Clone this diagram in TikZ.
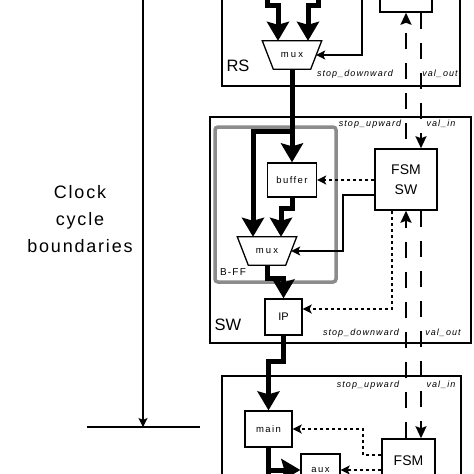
\documentclass[tikz,border=0pt]{standalone}
\usepackage{fontspec}
\setmainfont{Liberation Sans}
\usetikzlibrary{arrows.meta,calc}
\begin{document}
\begin{tikzpicture}[x=1pt,y=-1pt,
  frame/.style={draw,line width=1.3pt,inner sep=0pt},
  blk/.style={draw,line width=1.3pt,inner sep=0pt,font=\fontsize{9.5}{10}\selectfont\addfontfeature{LetterSpace=15}},
  fsm/.style={draw,line width=1.5pt,inner sep=0pt,align=center,font=\fontsize{14}{20}\selectfont},
  muxbox/.style={minimum width=59pt,minimum height=28pt,inner sep=0pt,
     font=\fontsize{9.5}{10}\selectfont\addfontfeature{LetterSpace=22}},
  muxline/.style={line width=1.3pt,line join=miter},
  bus/.style={line width=5pt,line join=miter,-{Stealth[length=19pt,width=22pt,inset=3pt]}},
  busline/.style={line width=5pt,line join=miter},
  ctrl/.style={line width=1.3pt,-{Stealth[length=9pt,width=9pt,inset=2pt]}},
  dot/.style={line width=1.8pt,dash pattern=on 3.5pt off 2.5pt,-{Stealth[length=9pt,width=9pt,inset=2pt]}},
  sig/.style={line width=2pt,dash pattern=on 16pt off 14pt,-{Stealth[length=12pt,width=11pt,inset=2pt]}},
  lbl/.style={inner sep=0pt,font=\fontsize{9}{10}\selectfont\itshape\addfontfeature{LetterSpace=12}},
  big/.style={inner sep=0pt,font=\fontsize{16.5}{18}\selectfont}]
\useasboundingbox (0,0) rectangle (474,474);
\clip (0,0) rectangle (474,474);
\fill[white] (0,0) rectangle (474,474);

% clock cycle boundaries
\coordinate (ctop) at (143,-5);
\coordinate (bl) at (87,427);
\coordinate (br) at (200,427);
\draw[line width=1.3pt] (bl) -- (br);
\draw[ctrl] (ctop) -- (ctop |- bl);
\node[align=center,inner sep=0pt,font=\fontsize{18}{27}\selectfont\addfontfeature{LetterSpace=10}] (clk) at (80,219) {Clock\\cycle\\boundaries};

% frames
\node[frame,minimum width=238pt,minimum height=110pt] (rsbox) at (341,31) {};
\node[frame,minimum width=261pt,minimum height=226pt] (swbox) at (340.5,230) {};
\node[frame,minimum width=239pt,minimum height=130pt] (rs2box) at (341.5,441) {};
\node[draw=black!45,line width=3.5pt,rounded corners=3pt,minimum width=121pt,minimum height=155pt,inner sep=0pt] (bff) at (275.5,204.5) {};

% blocks
\node[fsm,minimum width=52pt,minimum height=50pt] (fsmrs) at (406,-13) {};
\node[fsm,minimum width=62pt,minimum height=61pt] (fsmsw) at (406,179.5) {FSM\\SW};
\node[fsm,minimum width=53pt,minimum height=64pt] (fsmrs2) at (408.5,471) {FSM\\RS};
\node[blk,minimum width=49pt,minimum height=34pt] (buffer) at (292,180) {buffer};
\node[blk,minimum width=37pt,minimum height=36pt,font=\fontsize{11}{12}\selectfont] (ip) at (283.5,317) {IP};
\node[blk,minimum width=47pt,minimum height=36pt] (main) at (268.5,429) {main};
\node[blk,minimum width=39pt,minimum height=32pt] (aux) at (320.5,470) {aux};

% multiplexers (trapezoids)
\node[muxbox] (muxrs) at (292,55) {mux};
\node[muxbox] (muxsw) at (267,251) {mux};
\foreach \m in {muxrs,muxsw}{
  \draw[muxline] (\m.north west) -- (\m.north east) -- ($(\m.south east)+(-11,0)$)
     -- ($(\m.south west)+(11,0)$) -- cycle;
}

% labels
\node[big] (lrs) at (238,66) {RS};
\node[big] (lsw) at (228,325) {SW};
\node[inner sep=0pt,font=\fontsize{10}{11}\selectfont\addfontfeature{LetterSpace=12}] (lbff) at (233,272) {B-FF};
\node[lbl] (l1) at (355,74) {stop\_downward};
\node[lbl] (l2) at (440,74) {val\_out};
\node[lbl] (l3) at (370,124) {stop\_upward};
\node[lbl] (l4) at (441,124) {val\_in};
\node[lbl] (l5) at (361,333) {stop\_downward};
\node[lbl] (l6) at (443,333) {val\_out};
\node[lbl] (l7) at (368,385) {stop\_upward};
\node[lbl] (l8) at (441,385) {val\_in};

% data path (thick)
\coordinate (inA) at (267,-5);
\coordinate (inB) at (318,-5);
\coordinate (split) at (292,131);
\draw[bus] (inA) -- ++(0,10) -| ($(muxrs.north)+(-14,0)$);
\draw[bus] (inB) -- ++(0,10) -| ($(muxrs.north)+(16,0)$);
\draw[bus] (muxrs.south) -- (buffer.north);
\draw[bus] ([xshift=2.5pt]split) -| ($(muxsw.north)+(-14,0)$);
\draw[bus] (buffer.south) -- ++(0,11) -| ($(muxsw.north)+(14,0)$);
\draw[bus] (muxsw.south) -- ++(0,13) -| (ip.north);
\draw[bus] (ip.south) -- ++(0,26) -| (main.north);
\draw[busline] (main.south) -- ++(0,60);
\draw[bus] (main.south |- aux.west) -- (aux.west);

% control (thin)
\coordinate (fbtop) at (362,-5);
\draw[ctrl] (fbtop) |- ([xshift=-5.5pt]muxrs.east);
\coordinate (fbsw) at (343,0);
\draw[ctrl] ([yshift=-15.5pt]fsmsw.west) -| (fbsw |- muxsw.east) -- ([xshift=-5.5pt]muxsw.east);

% dotted
\draw[dot] (fsmsw.west |- buffer.east) -- (buffer.east);
\draw[dot] ([xshift=-14pt]fsmsw.south) |- ([yshift=8pt]ip.east);
\draw[dot] ([yshift=16pt]fsmrs2.west) -- ++(-18,0) |- (main.east);
\draw[dot] (fsmrs2.west |- aux.east) -- (aux.east);

% handshake signals
\coordinate (vx) at (421,0);
\draw[sig] (fsmrs2.north -| fsmsw.south) -- (fsmsw.south);
\draw[sig] ([yshift=9pt]fsmsw.north) -- (fsmsw.north |- fsmrs.south);
\draw[sig] (vx |- fsmrs.south) -- (vx |- fsmsw.north);
\draw[sig] (vx |- fsmsw.south) -- (vx |- fsmrs2.north);
\end{tikzpicture}
\end{document}
